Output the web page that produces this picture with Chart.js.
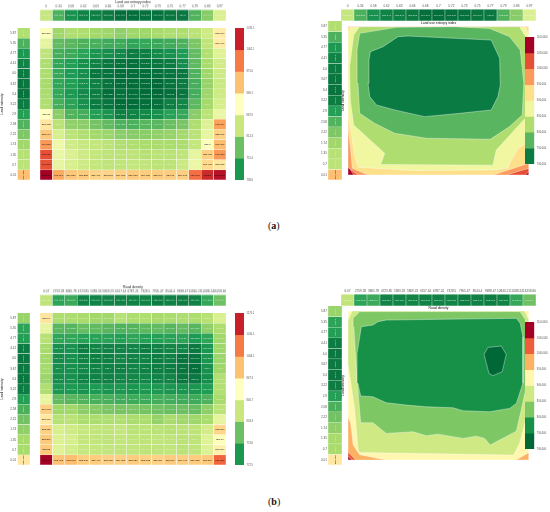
<!DOCTYPE html>
<html>
<head>
<meta charset="utf-8">
<title>Land intensity heatmaps</title>
<script src="https://cdn.jsdelivr.net/npm/chart.js@4/dist/chart.umd.min.js"></script>
<style>
  html, body { margin: 0; padding: 0; background: #fff; }
  body { width: 550px; height: 512px; position: relative; overflow: hidden; }
  canvas { position: absolute; }
  .tag { position: absolute; font: 10px "Liberation Serif", serif; color: #111; }
  .tag b { font-weight: bold; }
</style>
</head>
<body>
<div class="tag" style="left:268px;top:220px">(<b>a</b>)</div>
<div class="tag" style="left:268px;top:496px">(<b>b</b>)</div>
<script>
//--------------- data ---------------//
const rowLabels = ['5.87','5.35','4.77','4.41','4.0','3.67','3.4','3.22','2.9','2.58','2.22','1.74','1.35','0.7','0.01'];
const entropyLabels = ['0','0.34','0.58','0.62','0.63','0.66','0.68','0.7','0.72','0.73','0.75','0.77','0.79','0.83','0.97'];
const roadLabels = ['6.07','2759.28','3865.78','4723.85','5383.33','5869.23','6317.44','6787.24','7328.5','7905.47','8544.4','9698.47','10840.21','12088.24','16258.66'];

const entropyTop = [829.317,760.581,733.852,726.347,725.246,720.875,714.799,714.679,716.366,716.068,719.004,720.2,762.028,786.013,841.556];
const entropySide = [813.2,760.4,737.1,726.5,721.8,719.3,717.6,722.9,742.3,762.6,781.5,801.7,818.4,822.6,895.136];
const roadTop = [825.342,746.062,752.669,726.529,726.624,726.862,726.081,726.154,727.068,722.668,725.747,723.078,726.151,749.267,775.204];
const roadSide = [796.3,745.8,741.2,722.4,720.6,720.9,719.7,723.5,741.6,760.2,776.8,791.3,805.4,806.9,868.136];

const entropyGrid = [
  [856.267,801.221,811.977,811.177,802.145,800.265,790.775,800.394,800.5,805.514,811.023,811.245,820.311,833.472,865.666],
  [846.114,770.02,766.87,761.021,759.04,754.704,754.044,747.708,749.68,751.837,754.672,760.287,781.277,825.172,866.047],
  [825.574,757.56,753.773,744.828,734.951,732.068,728.846,722.44,724.046,729.786,733.414,739.623,770.502,813.4,843.125],
  [811.35,748.386,740.971,733.228,725.896,719.743,716.781,715.61,717.266,719.341,722.058,731.688,768.609,806.215,835.02],
  [808.51,750.258,738.18,731.76,719.41,716.852,714.079,714.73,713.871,715.685,717.196,719.802,762.332,800.255,833.719],
  [805.142,748.77,741.207,732.547,725.22,717.17,714.715,714.098,713.518,711.567,716.853,721.57,758.18,795.602,831.148],
  [807.214,749.22,737.4,729.718,723.28,714.285,716.08,714.901,713.053,711.375,715.02,718.4,756.72,799.3,833.4],
  [812.7,757.345,745.26,733.549,722.347,718.092,713.096,713.878,714.91,716.44,724.04,727.987,768.078,803.9,839.31],
  [858.33,788.69,762.8,756.263,741.351,734.877,724.368,726.3,728.424,733.061,743.44,749.861,786.8,821.311,848.2],
  [868.788,821.3,790.793,788.605,778.244,769.752,761.368,760.508,764.992,766.98,773.185,779.58,810.2,842.13,913.774],
  [888.974,840.2,822.091,812.209,802.149,798.061,788.102,786.143,787.223,791.078,795.19,802.75,821.5,846.9,882.101],
  [919.853,850.2,835.3,829.88,827.1,821.717,812.389,812.31,807.56,808.117,807.24,809.326,827.4,856.7,897.397],
  [980.017,848.3,841.2,833.2,827.3,823.09,820.326,823.66,817.173,821.026,820.023,824.4,846.2,883.478,919.873],
  [976.892,847.1,839.7,833.214,827.6,824.73,825.291,827.108,826.4,822.311,821.73,831.41,848.5,876.421,868.275],
  [1075.77,907.597,889.286,887.258,881.461,880.513,884.031,887.135,884.925,885.696,886.37,884.541,950.173,1022.5,1050.563]
];
const roadGrid = [
  [868.74,809.577,809.778,806.014,800.755,801.255,817.284,809.462,810.16,805.7,807.205,810.443,809.577,818.2,840.6],
  [846.21,766.84,764.863,772.028,769.346,765.964,761.737,763.358,767.968,769.614,764.961,770.633,764.654,790.2,809.58],
  [817.742,748.58,748.535,743.028,743.9,744.601,740.769,747.176,741.593,741.753,743.698,746.11,737.553,747.901,801.129],
  [805.211,733.009,733.899,724.218,727.051,726.608,726.47,727.322,722.969,726.178,727.579,727.883,721.031,736.001,800.017],
  [802.31,730.165,733.027,726.262,724.039,724.867,727.387,726.126,726.03,723.336,725.662,717.317,717.196,736.207,797.901],
  [803.5,731.4,732.786,728.857,726.231,725.4,725.033,726.781,725.39,724.11,722.645,718.3,715.9,733.4,799.6],
  [797.75,731.553,732.819,726.421,725.707,725.439,727.344,727.738,727.773,726.344,726.77,719.582,720.46,732.445,813.808],
  [811.342,736.544,737.793,734.714,737.415,735.646,736.465,735.468,736.807,737.169,736.067,735.45,735.756,739.646,813.302],
  [846.21,770.045,766.002,762.311,758.669,758.799,754.958,754.136,753.373,756.146,756.801,754.299,754.124,761.444,805.77],
  [884.003,800.148,800.665,788.787,784.96,780.24,778.899,780.264,777.89,775.751,773.111,774.378,772.184,789.62,822.031],
  [868.061,817.571,820.96,808.377,807.288,811.473,812.006,808.31,807.843,793.968,807.078,801.761,799.999,806.5,845.7],
  [882.127,840.1,834.2,828.614,826.22,825.145,827.771,820.017,822.378,821.2,817.819,821.323,823.146,836.2,878.866],
  [888.269,841.702,838.795,827.711,826.376,825.558,826.703,824.312,824.023,826.156,824.671,821.271,823.07,843.1,856.77],
  [888.82,843.19,837.2,829.274,827.41,827.015,824.705,826.471,824.186,825.11,825.915,821.167,825.155,841.78,863.874],
  [1170.8,892.921,895.893,885.757,886.446,883.622,884.028,885.627,883.752,881.879,887.079,884.946,886.085,887.806,957.532]
];

// contour outlines as [column index, row index], outermost level first
const entropyC1 = [[0,0],[14,0],[14,13.7],[13.66,14],[0.44,14],[0,13.11]];
const entropyC2 = [[0,0],[14,0],[14,13.36],[12.24,14],[0.77,14],[0,13.3]];
const entropyC3 = [[0,0],[14,0],[14,12.89],[11.21,14],[1.55,14],[0.33,13.36],[0.18,11.32],[0,9.59]];
const entropyC4 = [[0.26,0],[13.66,0],[14,0.79],[14,10.85],[13.15,11.48],[12.5,12.89],[12.37,13.36],[11.21,13.52],[5,13.58],[0.8,13.27],[0.54,12.26],[0.26,10.06],[0,8.18],[0,0.63]];
const entropyC5 = [[0.9,0],[13.27,0],[13.74,0.94],[14,2.2],[13.74,8.6],[11.47,11.64],[11.21,13.07],[2.53,13],[2.84,11.95],[0.44,9.28],[0.18,6.92],[0.13,3.77],[0.44,0.79]];
const entropyC6 = [[0.7,2.2],[0.9,0.63],[3.74,0.06],[8.11,0],[10.95,0.16],[12.5,0.94],[13.32,2.2],[13.6,5.35],[13.48,8.33],[12.5,9.43],[11,10.63],[6.06,10.53],[3.61,10.06],[2.06,9.12],[0.9,8.18],[0.77,5.35]];
const entropyC7 = [[1.62,3.14],[1.73,2.36],[2.71,1.89],[3.87,0.94],[4.64,0.88],[11.08,1.26],[11.73,2.99],[11.78,5.5],[11.6,6.6],[11.08,7.86],[8.64,8.18],[5.93,8.49],[3.61,7.86],[2.2,7.39],[1.68,6.6],[1.55,5.35]];

const roadC1 = [[0,0],[14,0],[14,14],[0.26,14],[0,13.6]];
const roadC2 = [[0,0],[14,0],[14,14],[0.6,14],[0,13.23]];
const roadC3 = [[0,0],[14,0],[14,13.3],[13,14],[2.96,14],[0.9,13.5],[0.4,12.6],[0.2,10.5],[0,10]];
const roadC4 = [[0.33,0],[13.66,0],[14,0.85],[14,7.43],[13.74,10.25],[13.27,12.45],[12.8,13.54],[0.9,13.3],[0.77,13],[0.52,9.31],[0.26,7.1],[0,5],[0,0.85]];
const roadC5 = [[0.9,0.06],[13.32,0.06],[13.74,0.85],[13.74,7.43],[13.4,9.31],[13.02,11.29],[11,12.6],[10.57,11.97],[9.92,11.76],[8.89,11.97],[6.96,11.57],[6.06,11.72],[5.03,11.35],[2.96,11.5],[1.93,10.5],[0.98,10.5],[0.7,6.49],[0.45,1.5],[0.39,0.69]];
const roadC6 = [[1.03,1.47],[1.93,1.32],[2.32,1],[2.96,0.85],[13.02,0.69],[13.32,1.16],[13.53,2.41],[13.53,6.8],[13.02,8.68],[12.5,9.15],[10.95,9.47],[8.89,9.37],[8.12,9.09],[6.06,9],[4.51,8.84],[2.96,8.62],[1.93,8.06],[0.98,7.99],[0.77,6.8],[0.7,4]];
const roadC7 = [[10.52,4.08],[10.82,3.42],[11.86,3.29],[12.24,4.08],[11.93,5.7],[11.21,6.08],[10.9,5.86],[10.7,4.92]];

const heatLegendA = ['1075.1','1001.1','875.0','869.1','867.9','814.3','751.4','738.6'];
const heatLegendB = ['1170.1','1010.1','1006.1','867.3','846.7','803.3','774.6','772.5'];
const contourLegend = ['1100.000','1050.000','1000.000','950.000','900.000','850.000','800.000','750.000','700.000'];

//--------------- colours ---------------//
const heatStops = [
  [711,'#006837'],[725,'#0f8044'],[740,'#1f9e55'],[760,'#4bb05c'],[785,'#86ca68'],[805,'#a8db6c'],
  [825,'#bfe47a'],[840,'#d8ef8e'],[850,'#eef8a8'],[858,'#feffc0'],[870,'#fee39a'],[890,'#fdc778'],[910,'#fca85e'],
  [950,'#f46d43'],[1000,'#dc3b2c'],[1075,'#a50026']
];
const heatBands = ['#c8202a','#f67a45','#fdc172','#ffffc0','#c9e77c','#6cc064','#1a9850'];
const entropyLevels = ['#a50026','#e64f35','#fb9a5a','#fee08b','#f0f7a0','#b0dd6f','#5ab560','#0a7b42'];
const roadLevels = ['#a50026','#f05d3c','#fdb163','#fff7b0','#cfe985','#7dc765','#179048','#006837'];

function hexToRgb(hex) {
  return [1, 3, 5].map(i => parseInt(hex.substr(i, 2), 16));
}
function heatColor(v) {
  if (v <= heatStops[0][0]) return heatStops[0][1];
  for (let i = 1; i < heatStops.length; i++) {
    if (v <= heatStops[i][0]) {
      const t = (v - heatStops[i - 1][0]) / (heatStops[i][0] - heatStops[i - 1][0]);
      const a = hexToRgb(heatStops[i - 1][1]);
      const b = hexToRgb(heatStops[i][1]);
      return 'rgb(' + a.map((c, k) => Math.round(c + (b[k] - c) * t)).join(',') + ')';
    }
  }
  return heatStops[heatStops.length - 1][1];
}
function textColor(v) {
  if (v >= 855) return '#111';
  return v < 765 ? 'rgba(255,255,255,0.8)' : 'rgba(255,255,255,0.55)';
}

//--------------- helpers ---------------//
Chart.defaults.font.family = '"Liberation Sans", Arial, sans-serif';
Chart.defaults.animation = false;
Chart.defaults.responsive = false;

const TICK = { size: 3.1 };
const TITLE = { size: 3.4 };
const TICK_COLOR = '#555';
const NO_GRID = { display: false, drawTicks: false };

function newCanvas(left, top, width, height) {
  const c = document.createElement('canvas');
  c.width = width;
  c.height = height;
  c.style.left = left + 'px';
  c.style.top = top + 'px';
  c.style.width = width + 'px';
  c.style.height = height + 'px';
  document.body.appendChild(c);
  return c;
}

function fixedBox(scale, size) {
  if (scale.isHorizontal()) scale.height = size; else scale.width = size;
  scale.paddingLeft = scale.paddingRight = scale.paddingTop = scale.paddingBottom = 0;
}

// writes the value in the middle of every cell
const cellText = {
  id: 'cellText',
  afterDatasetsDraw(chart, args, opts) {
    const ctx = chart.ctx;
    ctx.save();
    ctx.font = opts.size + 'px "Liberation Sans", Arial, sans-serif';
    ctx.textAlign = 'center';
    ctx.textBaseline = 'middle';
    chart.data.datasets.forEach((ds, r) => {
      chart.getDatasetMeta(r).data.forEach((bar, c) => {
        const v = opts.values[r][c];
        const p = bar.getCenterPoint();
        ctx.fillStyle = textColor(v);
        ctx.save();
        ctx.translate(p.x, p.y);
        if (opts.vertical) ctx.rotate(-Math.PI / 2);
        ctx.fillText(String(v), 0, 0);
        ctx.restore();
      });
    });
    ctx.restore();
  }
};

function heatChart(box, xLabels, yLabels, values, o) {
  o = o || {};
  const mTop = o.marginTop || 0;
  const mLeft = o.marginLeft || 0;
  const canvas = newCanvas(box.left - mLeft, box.top - mTop, box.width + mLeft, box.height + mTop);
  return new Chart(canvas, {
    type: 'bar',
    data: {
      labels: xLabels,
      datasets: values.map((row, r) => ({
        data: row.map(() => [r, r + 1]),
        backgroundColor: row.map(heatColor),
        borderColor: 'rgba(255,255,255,0.6)',
        borderWidth: 0.5,
        barPercentage: 1,
        categoryPercentage: 1,
        grouped: false
      }))
    },
    options: {
      layout: { padding: 0 },
      plugins: {
        legend: { display: false },
        tooltip: { enabled: false },
        cellText: { values: values, size: o.textSize || 2.5, vertical: !!o.vertical }
      },
      scales: {
        x: {
          display: mTop > 0,
          position: 'top',
          grid: NO_GRID,
          border: { display: false },
          ticks: { font: TICK, color: TICK_COLOR, padding: 1.5, autoSkip: false, maxRotation: 0, minRotation: 0 },
          title: { display: !!o.xTitle, text: o.xTitle, font: TITLE, color: '#222', padding: 0 },
          afterFit: s => fixedBox(s, mTop)
        },
        y: {
          display: mLeft > 0,
          min: 0,
          max: values.length,
          reverse: true,
          grid: NO_GRID,
          border: { display: false },
          ticks: {
            font: TICK, color: TICK_COLOR, padding: 1, autoSkip: false,
            callback: v => yLabels[v - 0.5]
          },
          title: { display: !!o.yTitle, text: o.yTitle, font: TITLE, color: '#222', padding: 0 },
          afterBuildTicks: s => { s.ticks = values.map((_, i) => ({ value: i + 0.5 })); },
          afterFit: s => fixedBox(s, mLeft)
        }
      }
    },
    plugins: [cellText]
  });
}

function colorBar(box, labels, colors, labelWidth) {
  const canvas = newCanvas(box.left, box.top - 3, box.width + labelWidth, box.height + 6);
  return new Chart(canvas, {
    type: 'bar',
    data: {
      labels: [''],
      datasets: colors.map((col, i) => ({
        data: [[i, i + 1]],
        backgroundColor: col,
        barPercentage: 1,
        categoryPercentage: 1,
        grouped: false
      }))
    },
    options: {
      layout: { padding: { top: 3, bottom: 3 } },
      plugins: { legend: { display: false }, tooltip: { enabled: false } },
      scales: {
        x: { display: false },
        y: {
          position: 'right',
          min: 0,
          max: colors.length,
          reverse: true,
          grid: NO_GRID,
          border: { display: false },
          ticks: { font: { size: 2.6 }, color: TICK_COLOR, padding: 2.5, autoSkip: false, callback: v => labels[v] },
          afterBuildTicks: s => { s.ticks = labels.map((_, i) => ({ value: i })); },
          afterFit: s => fixedBox(s, labelWidth)
        }
      }
    }
  });
}

function contourChart(box, layers, colors, xTitle, yTitle, mTop, mLeft) {
  const canvas = newCanvas(box.left - mLeft, box.top - mTop, box.width + mLeft, box.height + mTop);
  const datasets = layers.map((pts, i) => ({
    data: [...pts, pts[0]],
    showLine: true,
    fill: 'shape',
    backgroundColor: colors[i],
    borderColor: 'rgba(255,255,255,0.55)',
    borderWidth: 0.7,
    pointRadius: 0,
    tension: 0
  })).reverse(); // first dataset is painted last
  return new Chart(canvas, {
    type: 'scatter',
    data: { datasets: datasets },
    options: {
      plugins: { legend: { display: false }, tooltip: { enabled: false }, filler: { propagate: false } },
      scales: {
        x: {
          position: 'top', min: 0, max: 14,
          grid: NO_GRID, border: { display: false },
          ticks: { display: false },
          title: { display: true, text: xTitle, font: TITLE, color: '#111', padding: 0.5 },
          afterFit: s => fixedBox(s, mTop)
        },
        y: {
          min: 0, max: 14, reverse: true,
          grid: NO_GRID, border: { display: false },
          ticks: { display: false },
          title: { display: true, text: yTitle, font: TITLE, color: '#111', padding: 0 },
          afterFit: s => fixedBox(s, mLeft)
        }
      }
    }
  });
}

//--------------- panel a ---------------//
const fullRect = [[0,0],[14,0],[14,14],[0,14]];

heatChart({ left: 40, top: 9.3, width: 186, height: 11.4 }, entropyLabels, [''], [entropyTop],
  { marginTop: 9.3, xTitle: 'Land use entropy index' });
heatChart({ left: 17.3, top: 28.3, width: 13, height: 152 }, [''], rowLabels, entropySide.map(v => [v]),
  { marginLeft: 17.3, vertical: true, yTitle: 'Land intensity' });
heatChart({ left: 40, top: 28.3, width: 186, height: 152 }, entropyLabels, rowLabels, entropyGrid);
colorBar({ left: 235, top: 28.3, width: 9, height: 152 }, heatLegendA, heatBands, 22);

heatChart({ left: 341, top: 9.3, width: 195, height: 11.7 }, entropyLabels, [''], [entropyTop],
  { marginTop: 9.3 });
heatChart({ left: 327.7, top: 21, width: 14, height: 159 }, [''], rowLabels, entropySide.map(v => [v]),
  { marginLeft: 27, vertical: true });
contourChart({ left: 348, top: 26.7, width: 181.3, height: 148.3 },
  [fullRect, entropyC1, entropyC2, entropyC3, entropyC4, entropyC5, entropyC6, entropyC7],
  entropyLevels, 'Land use entropy index', 'Land intensity', 5.7, 7);
colorBar({ left: 525, top: 36.7, width: 9.3, height: 127.6 }, contourLegend, entropyLevels, 15.7);

//--------------- panel b ---------------//
heatChart({ left: 40, top: 294.3, width: 186, height: 11.4 }, roadLabels, [''], [roadTop],
  { marginTop: 9.3, xTitle: 'Road density' });
heatChart({ left: 17.3, top: 313.3, width: 13, height: 152 }, [''], rowLabels, roadSide.map(v => [v]),
  { marginLeft: 17.3, vertical: true, yTitle: 'Land intensity' });
heatChart({ left: 40, top: 313.3, width: 186, height: 152 }, roadLabels, rowLabels, roadGrid);
colorBar({ left: 235, top: 313.3, width: 9, height: 152 }, heatLegendB, heatBands, 22);

heatChart({ left: 341, top: 294.3, width: 195, height: 11.7 }, roadLabels, [''], [roadTop],
  { marginTop: 9.3 });
heatChart({ left: 327.7, top: 306, width: 14, height: 159 }, [''], rowLabels, roadSide.map(v => [v]),
  { marginLeft: 27, vertical: true });
contourChart({ left: 348, top: 311, width: 181.3, height: 149 },
  [fullRect, roadC1, roadC2, roadC3, roadC4, roadC5, roadC6, roadC7],
  roadLevels, 'Road density', 'Land intensity', 5, 7);
colorBar({ left: 525, top: 321.7, width: 9.3, height: 127.6 }, contourLegend, roadLevels, 15.7);
</script>
</body>
</html>
